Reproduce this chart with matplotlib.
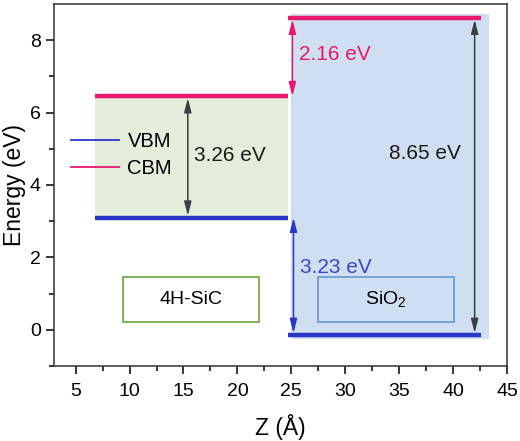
import matplotlib
matplotlib.use('Agg')

import matplotlib.pyplot as plt
from matplotlib.patches import Rectangle
from matplotlib.lines import Line2D

plt.rcParams['font.family'] = ['Liberation Sans', 'DejaVu Sans']
plt.rcParams['mathtext.fontset'] = 'custom'
plt.rcParams['mathtext.rm'] = 'Liberation Sans'

# band edges
materials = ['4H-SiC', 'SiO$_2$']
z_start = [6.8, 24.7]
z_end = [24.7, 42.6]
vbm = [3.10, -0.14]
cbm = [6.45, 8.62]
gap_labels = ['3.26 eV', '8.65 eV']
offset_labels = ['2.16 eV', '3.23 eV']   # CB offset, VB offset

pink = '#e8186e'
blue = '#2b36c9'
dark = '#3a3f44'

fig = plt.figure(figsize=(5.2, 4.41), dpi=100)
ax = fig.add_axes([0.104, 0.170, 0.871, 0.821])

# shaded regions
ax.add_patch(Rectangle((z_start[0], vbm[0]), z_end[0] - z_start[0], cbm[0] - vbm[0],
                       facecolor='#e4edd9', edgecolor='none', zorder=1))
ax.add_patch(Rectangle((z_start[1] + 0.3, vbm[1] - 0.1), z_end[1] - z_start[1] + 0.4,
                       cbm[1] - vbm[1] + 0.2, facecolor='#cfdff1', edgecolor='none', zorder=1))

# band edges
for i in range(2):
    ax.plot([z_start[i], z_end[i]], [cbm[i], cbm[i]], color=pink, lw=3.2,
            solid_capstyle='butt', zorder=3)
    ax.plot([z_start[i], z_end[i]], [vbm[i], vbm[i]], color=blue, lw=3.2,
            solid_capstyle='butt', zorder=3)

arrow = '<|-|>,head_length=0.7,head_width=0.18'

def darrow(x, y0, y1, c):
    ax.annotate('', xy=(x, y1), xytext=(x, y0),
                arrowprops=dict(arrowstyle=arrow, color=c, lw=1.1,
                                shrinkA=0, shrinkB=0, mutation_scale=12), zorder=4)

# gaps
darrow(15.4, vbm[0] + 0.05, cbm[0] - 0.05, dark)
ax.text(16.0, 4.82, gap_labels[0], fontsize=15, color='#1a1a1a', va='center', ha='left')
darrow(42.0, vbm[1] + 0.05, cbm[1] - 0.05, dark)
ax.text(37.4, 4.88, gap_labels[1], fontsize=15, color='#1a1a1a', va='center', ha='center')

# band offsets
darrow(25.1, cbm[0], cbm[1] - 0.05, pink)
ax.text(25.7, 7.6, offset_labels[0], fontsize=15, color=pink, va='center', ha='left')
darrow(25.2, vbm[1] + 0.05, vbm[0], blue)
ax.text(25.8, 1.72, offset_labels[1], fontsize=15, color='#3a46c8', va='center', ha='left')

# material boxes
ax.add_patch(Rectangle((9.4, 0.22), 12.6, 1.24, facecolor='none',
                       edgecolor='#72ad4a', lw=1.3, zorder=2))
ax.text(15.7, 0.84, materials[0], fontsize=14, ha='center', va='center')
ax.add_patch(Rectangle((27.5, 0.22), 12.6, 1.24, facecolor='none',
                       edgecolor='#6a9fd3', lw=1.3, zorder=2))
ax.text(33.8, 0.84, materials[1], fontsize=14, ha='center', va='center')

# legend
handles = [Line2D([], [], color=blue, lw=1.3), Line2D([], [], color=pink, lw=1.3)]
ax.legend(handles, ['VBM', 'CBM'], loc='center left', bbox_to_anchor=(0.0375, 0.583),
          frameon=False, fontsize=14.5, handlelength=2.4, handletextpad=0.4,
          labelspacing=0.42, borderaxespad=0, borderpad=0)

ax.set_xlim(3, 45)
ax.set_ylim(-1, 9)
ax.set_xticks([5, 10, 15, 20, 25, 30, 35, 40, 45])
ax.set_xticks([7.5, 12.5, 17.5, 22.5, 27.5, 32.5, 37.5, 42.5], minor=True)
ax.set_yticks([0, 2, 4, 6, 8])
ax.set_yticks([-1, 1, 3, 5, 7], minor=True)
ax.tick_params(which='major', direction='out', length=6, width=1.1, labelsize=14)
ax.tick_params(axis='x', which='major', pad=6)
ax.tick_params(which='minor', direction='out', length=3.5, width=1.1)
for s in ax.spines.values():
    s.set_linewidth(1.1)
    s.set_color('#333333')

ax.set_xlabel('Z (Å)', fontsize=16.5, labelpad=10)
ax.set_ylabel('Energy (eV)', fontsize=16.5, labelpad=3)

fig.savefig('out.png', dpi=100)
plt.close(fig)
